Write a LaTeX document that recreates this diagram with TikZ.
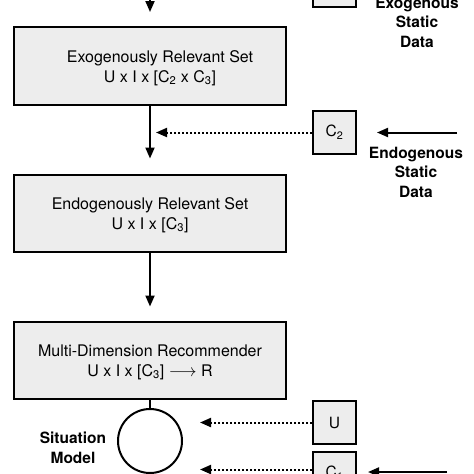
\documentclass[tikz,border=0pt]{standalone}
\usepackage{fontspec}
\setmainfont{TeX Gyre Heros}
\usetikzlibrary{arrows.meta}
\definecolor{boxgray}{gray}{0.93}
\begin{document}
\begin{tikzpicture}[x=1pt,y=-1pt,
  bigbox/.style={draw=black, line width=2pt, fill=boxgray, minimum width=272pt, inner sep=0pt},
  smallbox/.style={draw=black, line width=2pt, fill=boxgray, minimum width=43pt, minimum height=43pt, inner sep=0pt, font=\fontsize{15.5}{18}\selectfont},
  txt/.style={align=center, font=\fontsize{16}{19.5}\selectfont, anchor=base, inner sep=0pt},
  btxt/.style={align=center, font=\fontsize{15.5}{19.5}\selectfont\bfseries, anchor=base, inner sep=0pt},
  arr/.style={line width=2pt, -{Triangle[length=11pt,width=9pt]}},
  dotarr/.style={line width=2pt, dash pattern=on 2pt off 2pt, -{Triangle[length=11pt,width=9pt]}},
]
\useasboundingbox (0,0) rectangle (474,474);
\fill[white] (0,0) rectangle (474,474);
\clip (0,0) rectangle (474,474);

% main boxes
\node[bigbox, minimum height=78pt] (b1) at (150,66) {};
\node[bigbox, minimum height=77pt] (b2) at (150,213) {};
\node[bigbox, minimum height=77pt] (b3) at (150,360) {};

\node[txt] (t1) at (160,82) {Exogenously Relevant Set\\U x I x [C\textsubscript{2} x C\textsubscript{3}]};
\node[txt] (t2) at (150,229) {Endogenously Relevant Set\\U x I x [C\textsubscript{3}]};
\node[txt] (t3) at (150,376) {Multi-Dimension Recommender\\U x I x [C\textsubscript{3}] $\longrightarrow$ R};

% situation model
\node[circle, draw=black, line width=2pt, minimum size=64pt, inner sep=0pt] (sm) at (150,441) {};
\node[btxt] (smlabel) at (73,463) {Situation\\Model};

% side boxes
\node[smallbox] (c3) at (334.5,-14.5) {};
\node[smallbox] (c2) at (334.5,132.5) {C\textsubscript{2}};
\node[smallbox] (u) at (334.5,422.5) {U};
\node[smallbox] (c1) at (334.5,473.5) {C\textsubscript{1}};

\node[btxt] (exo) at (417,47) {Exogenous\\Static\\Data};
\node[btxt] (endo) at (416,197) {Endogenous\\Static\\Data};

% connectors
\coordinate (top) at (150,-40);
\draw[arr, shorten >=14pt] (top) -- (b1.north);
\draw[arr, shorten >=15pt] (b1.south) -- (b2.north);
\draw[arr, shorten >=14pt] (b2.south) -- (b3.north);
\draw[line width=2pt] (b3.south) -- (sm.north);

\draw[dotarr, shorten >=6pt] (c2.west) -- (c2.west -| b1.south);
\draw[dotarr, shorten >=17pt] (u.west) -- (u.west -| sm.east);
\coordinate (c1w) at ([yshift=4pt]c1.west);
\draw[dotarr, shorten >=17pt] (c1w) -- (c1w -| sm.east);

\coordinate (e2) at (457,132.5);
\draw[arr, shorten >=20pt] (e2) -- (c2.east);
\coordinate (e1) at (447,472);
\draw[arr, shorten >=11pt] (e1) -- (e1 -| c1.east);
\end{tikzpicture}
\end{document}
